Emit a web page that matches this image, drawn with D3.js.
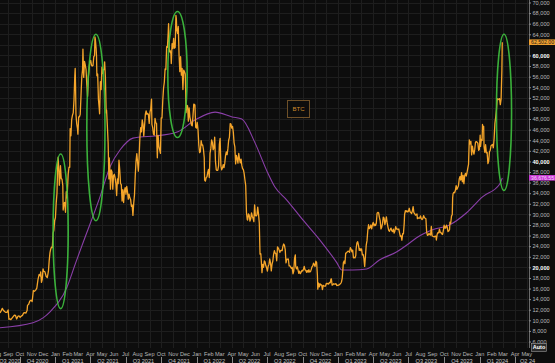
<!DOCTYPE html>
<html>
<head>
<meta charset="utf-8">
<script src="https://cdn.jsdelivr.net/npm/d3@7"></script>
<style>
  html, body { margin: 0; padding: 0; background: #0d0d0d; }
  svg { display: block; font-family: "Liberation Sans", Arial, sans-serif; }
</style>
</head>
<body>
<svg id="chart" width="555" height="363"></svg>
<script>
// BTC daily close
const btc = [
  ["2020-08-11",11400],["2020-08-14",11780],["2020-08-17",12250],["2020-08-20",11860],["2020-08-23",11650],["2020-08-26",11480],["2020-08-29",11520],
  ["2020-09-01",11960],["2020-09-03",10190],["2020-09-05",10280],["2020-09-08",10120],["2020-09-11",10400],["2020-09-14",10680],["2020-09-17",10960],
  ["2020-09-20",10920],["2020-09-23",10250],["2020-09-26",10730],["2020-09-29",10840],["2020-10-02",10580],["2020-10-05",10790],["2020-10-08",10930],
  ["2020-10-11",11380],["2020-10-14",11430],["2020-10-17",11360],["2020-10-20",11920],["2020-10-21",12820],["2020-10-24",13030],["2020-10-27",13650],
  ["2020-10-30",13800],["2020-11-02",13560],["2020-11-05",15590],["2020-11-08",15480],["2020-11-11",15700],["2020-11-14",16070],["2020-11-17",17680],
  ["2020-11-20",18680],["2020-11-23",18370],["2020-11-24",19160],["2020-11-26",17150],["2020-11-28",17730],["2020-11-30",19700],["2020-12-02",19220],
  ["2020-12-05",19150],["2020-12-08",18320],["2020-12-11",18050],["2020-12-14",19270],["2020-12-16",21310],["2020-12-18",22800],["2020-12-20",23480],
  ["2020-12-22",23830],["2020-12-24",23730],["2020-12-26",26440],["2020-12-28",27040],["2020-12-30",28840],
  ["2021-01-01",29370],["2021-01-03",32130],["2021-01-05",33990],["2021-01-07",39370],["2021-01-08",40800],["2021-01-10",38180],["2021-01-11",35500],
  ["2021-01-13",37320],["2021-01-14",39190],["2021-01-16",36770],["2021-01-18",36630],["2021-01-20",35500],["2021-01-21",30830],["2021-01-23",32080],
  ["2021-01-25",32260],["2021-01-27",30400],["2021-01-29",34270],["2021-01-31",33110],["2021-02-03",37620],["2021-02-05",38900],["2021-02-07",38900],
  ["2021-02-08",46200],["2021-02-10",44840],["2021-02-12",47900],["2021-02-14",48720],["2021-02-16",49170],["2021-02-18",51680],["2021-02-20",56100],
  ["2021-02-21",57540],["2021-02-22",54200],["2021-02-23",48900],["2021-02-25",47060],["2021-02-27",46190],["2021-02-28",45140],["2021-03-02",48400],
  ["2021-03-04",48420],["2021-03-06",48880],["2021-03-08",52380],["2021-03-10",55880],["2021-03-12",57330],["2021-03-13",61200],["2021-03-15",55850],
  ["2021-03-17",58870],["2021-03-19",58240],["2021-03-21",57350],["2021-03-23",54530],["2021-03-25",52300],["2021-03-27",55860],["2021-03-29",57600],
  ["2021-03-31",58920],["2021-04-02",59060],["2021-04-04",58200],["2021-04-06",58000],["2021-04-08",58100],["2021-04-10",59770],["2021-04-12",59990],
  ["2021-04-13",63500],["2021-04-14",63110],["2021-04-16",61340],["2021-04-17",60000],["2021-04-18",56150],["2021-04-20",56500],["2021-04-22",51700],
  ["2021-04-24",50050],["2021-04-25",49000],["2021-04-27",55050],["2021-04-29",53560],["2021-05-01",57800],["2021-05-03",56600],["2021-05-05",57360],
  ["2021-05-07",57350],["2021-05-08",58800],["2021-05-10",55860],["2021-05-12",49150],["2021-05-13",49720],["2021-05-15",46760],["2021-05-17",43540],
  ["2021-05-19",36700],["2021-05-20",40670],["2021-05-22",37540],["2021-05-23",34770],["2021-05-25",38400],["2021-05-27",38000],["2021-05-29",34770],
  ["2021-05-31",37330],["2021-06-02",37580],["2021-06-04",36880],["2021-06-06",35800],["2021-06-08",33560],["2021-06-10",36700],["2021-06-12",35790],
  ["2021-06-14",40220],["2021-06-16",38350],["2021-06-18",35820],["2021-06-20",35600],["2021-06-22",32510],["2021-06-24",34650],["2021-06-26",32240],
  ["2021-06-28",34430],["2021-06-30",35040],["2021-07-02",33800],["2021-07-04",35290],["2021-07-06",34240],["2021-07-08",32860],["2021-07-10",33810],
  ["2021-07-12",33130],["2021-07-14",32820],["2021-07-16",31530],["2021-07-18",31780],["2021-07-20",29800],["2021-07-22",32110],["2021-07-24",33650],
  ["2021-07-26",37340],["2021-07-28",40010],["2021-07-30",41460],["2021-08-01",39860],["2021-08-03",38150],["2021-08-05",40870],["2021-08-07",44560],
  ["2021-08-09",46360],["2021-08-11",45590],["2021-08-13",47820],["2021-08-15",47050],["2021-08-17",44800],["2021-08-19",46720],["2021-08-21",48870],
  ["2021-08-23",49520],["2021-08-25",48900],["2021-08-27",49060],["2021-08-29",48820],["2021-08-31",47170],["2021-09-02",49310],["2021-09-04",49940],
  ["2021-09-06",51760],["2021-09-07",46980],["2021-09-09",46360],["2021-09-11",45160],["2021-09-13",44960],["2021-09-15",48140],["2021-09-17",47280],
  ["2021-09-19",47170],["2021-09-20",42840],["2021-09-21",40690],["2021-09-23",44900],["2021-09-25",42840],["2021-09-27",42170],["2021-09-29",41540],
  ["2021-10-01",48230],["2021-10-03",48200],["2021-10-05",51510],["2021-10-07",53810],["2021-10-09",54940],["2021-10-11",57480],["2021-10-13",57360],
  ["2021-10-15",61670],["2021-10-17",61550],["2021-10-19",64260],["2021-10-20",65990],["2021-10-22",60690],["2021-10-24",60930],["2021-10-26",60340],
  ["2021-10-27",58480],["2021-10-29",62210],["2021-10-31",61320],["2021-11-02",63230],["2021-11-04",61370],["2021-11-06",61530],["2021-11-08",67570],
  ["2021-11-09",66970],["2021-11-10",64990],["2021-11-12",64160],["2021-11-14",65470],["2021-11-16",60160],["2021-11-18",56940],["2021-11-20",59760],
  ["2021-11-22",56290],["2021-11-24",57570],["2021-11-26",53570],["2021-11-28",57230],["2021-11-30",56910],["2021-12-02",56500],["2021-12-03",53600],
  ["2021-12-04",49200],["2021-12-06",50580],["2021-12-08",50500],["2021-12-10",47590],["2021-12-12",50100],["2021-12-14",48380],["2021-12-16",47630],
  ["2021-12-18",46850],["2021-12-20",46710],["2021-12-22",48620],["2021-12-24",50820],["2021-12-27",50640],["2021-12-29",46460],["2021-12-31",46310],
  ["2022-01-02",47350],["2022-01-04",45900],["2022-01-06",43080],["2022-01-08",41670],["2022-01-10",41820],["2022-01-12",43910],["2022-01-14",43100],
  ["2022-01-16",43100],["2022-01-18",42250],["2022-01-20",40700],["2022-01-21",36480],["2022-01-23",36280],["2022-01-25",36950],["2022-01-27",37080],
  ["2022-01-29",37920],["2022-01-31",38480],["2022-02-02",36950],["2022-02-04",41570],["2022-02-06",42410],["2022-02-08",44040],["2022-02-10",43570],
  ["2022-02-12",42200],["2022-02-14",42590],["2022-02-16",44580],["2022-02-18",40000],["2022-02-20",38430],["2022-02-22",38300],["2022-02-24",38330],
  ["2022-02-26",39140],["2022-02-28",43190],["2022-03-02",44350],["2022-03-04",39150],["2022-03-06",38420],["2022-03-08",38740],["2022-03-10",39390],
  ["2022-03-12",38810],["2022-03-14",39670],["2022-03-16",41140],["2022-03-18",41790],["2022-03-20",41260],["2022-03-22",42360],["2022-03-24",44000],
  ["2022-03-26",44550],["2022-03-28",47130],["2022-03-30",47060],["2022-04-01",46280],["2022-04-03",46620],["2022-04-05",45540],["2022-04-07",43500],
  ["2022-04-09",42760],["2022-04-11",39520],["2022-04-13",41150],["2022-04-15",40550],["2022-04-17",39680],["2022-04-19",41500],["2022-04-21",40480],
  ["2022-04-23",39740],["2022-04-25",40430],["2022-04-27",39240],["2022-04-29",38600],["2022-05-01",38470],["2022-05-03",37710],["2022-05-05",36540],
  ["2022-05-07",35470],["2022-05-09",30300],["2022-05-11",29030],["2022-05-12",28940],["2022-05-14",30080],["2022-05-16",29860],["2022-05-18",28720],
  ["2022-05-20",29200],["2022-05-22",30290],["2022-05-24",29650],["2022-05-26",29270],["2022-05-28",28630],["2022-05-30",31790],["2022-06-01",29800],
  ["2022-06-03",29700],["2022-06-05",29910],["2022-06-07",31370],["2022-06-09",30100],["2022-06-11",28400],["2022-06-13",22490],["2022-06-15",22570],
  ["2022-06-17",20380],["2022-06-18",19000],["2022-06-20",20560],["2022-06-22",20000],["2022-06-24",21230],["2022-06-26",21030],["2022-06-28",20280],
  ["2022-06-30",19930],["2022-07-02",19300],["2022-07-04",20220],["2022-07-06",20550],["2022-07-08",21590],["2022-07-10",20830],["2022-07-12",19320],
  ["2022-07-14",20590],["2022-07-16",21190],["2022-07-18",22470],["2022-07-20",23160],["2022-07-22",22680],["2022-07-24",22580],["2022-07-26",21240],
  ["2022-07-28",23850],["2022-07-30",23640],["2022-08-01",23300],["2022-08-03",22820],["2022-08-05",23170],["2022-08-07",23180],["2022-08-09",23160],
  ["2022-08-11",23950],["2022-08-13",24400],["2022-08-15",24140],["2022-08-17",23340],["2022-08-19",20830],["2022-08-21",21530],["2022-08-23",21530],
  ["2022-08-25",21570],["2022-08-27",20260],["2022-08-29",20300],["2022-08-31",20050],["2022-09-02",19800],["2022-09-04",20000],["2022-09-06",18790],
  ["2022-09-08",19290],["2022-09-10",21650],["2022-09-12",22370],["2022-09-13",20180],["2022-09-15",19700],["2022-09-17",20110],["2022-09-19",19540],
  ["2022-09-21",18870],["2022-09-23",19290],["2022-09-25",18800],["2022-09-27",19080],["2022-09-29",19410],["2022-10-01",19310],["2022-10-03",19620],
  ["2022-10-05",20160],["2022-10-07",19530],["2022-10-09",19450],["2022-10-11",19060],["2022-10-13",19380],["2022-10-15",19070],["2022-10-17",19550],
  ["2022-10-19",19120],["2022-10-21",19170],["2022-10-23",19570],["2022-10-25",20090],["2022-10-27",20290],["2022-10-29",20810],["2022-10-31",20490],
  ["2022-11-02",20160],["2022-11-04",21150],["2022-11-06",20920],["2022-11-08",18540],["2022-11-09",15880],["2022-11-11",17040],["2022-11-13",16330],
  ["2022-11-15",16900],["2022-11-17",16700],["2022-11-19",16700],["2022-11-21",15790],["2022-11-23",16600],["2022-11-25",16520],["2022-11-27",16460],
  ["2022-11-29",16440],["2022-12-01",16970],["2022-12-03",16890],["2022-12-05",16970],["2022-12-07",16840],["2022-12-09",17130],["2022-12-11",17090],
  ["2022-12-13",17780],["2022-12-14",17820],["2022-12-16",16630],["2022-12-18",16740],["2022-12-20",16900],["2022-12-22",16830],["2022-12-24",16840],
  ["2022-12-26",16910],["2022-12-28",16550],["2022-12-30",16600],
  ["2023-01-01",16620],["2023-01-03",16680],["2023-01-05",16830],["2023-01-07",16950],["2023-01-09",17190],["2023-01-11",17940],["2023-01-12",18850],
  ["2023-01-14",20880],["2023-01-16",21190],["2023-01-18",20680],["2023-01-20",22670],["2023-01-22",22720],["2023-01-24",22920],["2023-01-26",23070],
  ["2023-01-28",23030],["2023-01-30",22850],["2023-02-01",23730],["2023-02-03",23430],["2023-02-05",22940],["2023-02-07",23250],["2023-02-09",21800],
  ["2023-02-11",21860],["2023-02-13",21790],["2023-02-15",22230],["2023-02-16",23540],["2023-02-18",24630],["2023-02-20",24840],["2023-02-22",24190],
  ["2023-02-24",23190],["2023-02-26",23560],["2023-02-28",23150],["2023-03-02",23470],["2023-03-04",22350],["2023-03-06",22430],["2023-03-08",21700],
  ["2023-03-10",20180],["2023-03-12",22150],["2023-03-14",24200],["2023-03-16",25040],["2023-03-18",26940],["2023-03-20",28040],["2023-03-22",27300],
  ["2023-03-24",27490],["2023-03-26",27990],["2023-03-28",27260],["2023-03-30",28040],["2023-04-01",28470],["2023-04-03",27820],["2023-04-05",28170],
  ["2023-04-07",27910],["2023-04-09",28330],["2023-04-11",30210],["2023-04-13",30390],["2023-04-15",30300],["2023-04-17",29430],["2023-04-19",28820],
  ["2023-04-21",27260],["2023-04-23",27590],["2023-04-25",28300],["2023-04-27",29480],["2023-04-29",29340],["2023-05-01",28090],["2023-05-03",28680],
  ["2023-05-05",29540],["2023-05-07",28430],["2023-05-09",27650],["2023-05-11",26990],["2023-05-13",26800],["2023-05-15",27170],["2023-05-17",27410],
  ["2023-05-19",26890],["2023-05-21",26750],["2023-05-23",27220],["2023-05-25",26480],["2023-05-27",26870],["2023-05-29",27700],["2023-05-31",27220],
  ["2023-06-02",27250],["2023-06-04",27120],["2023-06-06",27240],["2023-06-08",26510],["2023-06-10",25850],["2023-06-12",25940],["2023-06-14",25120],
  ["2023-06-16",26340],["2023-06-18",26340],["2023-06-20",28310],["2023-06-21",30000],["2023-06-23",30690],["2023-06-25",30480],["2023-06-27",30690],
  ["2023-06-29",30450],["2023-07-01",30590],["2023-07-03",31150],["2023-07-05",30500],["2023-07-07",30350],["2023-07-09",30170],["2023-07-11",30620],
  ["2023-07-13",31470],["2023-07-15",30300],["2023-07-17",30140],["2023-07-19",29860],["2023-07-21",29910],["2023-07-23",30080],["2023-07-24",29180],
  ["2023-07-26",29350],["2023-07-28",29310],["2023-07-30",29280],["2023-08-01",29700],["2023-08-03",29190],["2023-08-05",29040],["2023-08-07",29180],
  ["2023-08-09",29770],["2023-08-11",29400],["2023-08-13",29280],["2023-08-15",29170],["2023-08-17",26630],["2023-08-19",26050],["2023-08-21",26120],
  ["2023-08-23",26430],["2023-08-25",26160],["2023-08-27",26100],["2023-08-29",27720],["2023-08-31",25930],["2023-09-02",25870],["2023-09-04",25820],
  ["2023-09-06",25760],["2023-09-08",25900],["2023-09-10",25840],["2023-09-11",25160],["2023-09-13",26230],["2023-09-15",26560],["2023-09-17",26530],
  ["2023-09-19",27210],["2023-09-21",26580],["2023-09-23",26580],["2023-09-25",26300],["2023-09-27",26210],["2023-09-29",26910],["2023-10-01",27980],
  ["2023-10-03",27430],["2023-10-05",27430],["2023-10-07",27970],["2023-10-09",27590],["2023-10-11",26760],["2023-10-13",26860],["2023-10-15",27160],
  ["2023-10-16",28520],["2023-10-18",28330],["2023-10-20",29670],["2023-10-22",29990],["2023-10-23",33090],["2023-10-24",33900],["2023-10-26",34150],
  ["2023-10-28",34090],["2023-10-30",34500],["2023-11-01",35420],["2023-11-03",34730],["2023-11-05",35050],["2023-11-07",35420],["2023-11-09",36700],
  ["2023-11-11",37140],["2023-11-13",36490],["2023-11-15",37880],["2023-11-17",36160],["2023-11-19",37360],["2023-11-21",35810],["2023-11-23",37300],
  ["2023-11-25",37720],["2023-11-27",37240],["2023-11-29",37860],["2023-12-01",38690],["2023-12-03",39460],["2023-12-04",41980],["2023-12-05",44080],
  ["2023-12-07",43290],["2023-12-09",43790],["2023-12-11",41240],["2023-12-13",42890],["2023-12-15",41930],["2023-12-17",41370],["2023-12-19",42260],
  ["2023-12-21",43660],["2023-12-23",43740],["2023-12-25",43610],["2023-12-27",43440],["2023-12-29",42100],["2023-12-31",42270],
  ["2024-01-02",44960],["2024-01-03",42850],["2024-01-05",44160],["2024-01-07",43960],["2024-01-08",46970],["2024-01-10",46110],["2024-01-11",46630],
  ["2024-01-12",42800],["2024-01-14",41730],["2024-01-16",43150],["2024-01-18",41620],["2024-01-20",41680],["2024-01-22",39570],["2024-01-24",40080],
  ["2024-01-26",41820],["2024-01-28",42120],["2024-01-30",42940],["2024-02-01",43080],["2024-02-03",43190],["2024-02-05",42580],["2024-02-07",44350],
  ["2024-02-09",47150],["2024-02-11",48300],["2024-02-13",49700],["2024-02-15",51840],["2024-02-17",51660],["2024-02-19",51780],["2024-02-21",51850],
  ["2024-02-23",50730],["2024-02-25",51730],["2024-02-26",54480],["2024-02-27",57090],["2024-02-28",62502]
];

// moving average (purple)
const movingAvg = [
  ["2020-08-11",8600],["2020-11-04",9530],["2020-12-01",10500],["2020-12-18",11600],["2021-01-31",16300],["2021-02-22",20800],
  ["2021-03-13",24600],["2021-04-26",33300],["2021-05-22",39000],["2021-06-17",42200],["2021-07-20",44400],["2021-08-07",44600],
  ["2021-09-15",44800],["2021-11-13",45600],["2021-12-27",47800],["2022-02-17",49300],["2022-04-02",48400],["2022-04-27",48000],
  ["2022-05-31",43500],["2022-07-03",37800],["2022-07-21",35200],["2022-08-21",32700],["2022-10-01",29000],["2022-11-14",25200],
  ["2022-12-28",20900],["2023-01-10",19500],["2023-02-07",19500],["2023-03-15",19700],["2023-04-17",21400],["2023-05-31",22900],
  ["2023-07-04",24600],["2023-07-22",25600],["2023-09-01",27100],["2023-10-15",28000],["2023-11-28",30300],["2024-01-08",33300],
  ["2024-02-21",35700],["2024-02-28",36900]
];

const yTicks = [6000,8000,10000,12000,14000,16000,18000,20000,22000,24000,26000,28000,30000,32000,34000,36000,38000,
  40000,42000,44000,46000,48000,50000,52000,54000,56000,58000,60000,62000,64000,66000,68000,70000];
const boldTicks = [20000, 40000, 60000];
const quarterLabels = ["Q3 2020","Q4 2020","Q1 2021","Q2 2021","Q3 2021","Q4 2021","Q1 2022","Q2 2022","Q3 2022",
  "Q4 2022","Q1 2023","Q2 2023","Q3 2023","Q4 2023","Q1 2024","Q2 24"];

// green rings drawn on the chart: date span and price span
const circled = [
  {from: "2020-12-26", to: "2021-02-03", lo: 12200, hi: 41400},
  {from: "2021-03-23", to: "2021-05-09", lo: 28800, hi: 64000},
  {from: "2021-10-18", to: "2021-12-07", lo: 44500, hi: 68300},
  {from: "2024-02-13", to: "2024-03-23", lo: 34500, hi: 64000}
];

const lastPriceLabel = "62,502.00";
const lastAvgLabel = "36,676.55";
const legendLabel = "BTC";

const W = 555, H = 363;
const plot = {left: 0, right: 529, top: 0, bottom: 348};
const parse = d3.utcParse("%Y-%m-%d");

const svg = d3.select("#chart");

const x = d3.scaleUtc()
  .domain([parse("2020-08-11"), parse("2024-05-07")])
  .range([plot.left, plot.right]);

const y = d3.scaleLinear()
  .domain([6000, 70000])
  .range([341.5, 2.5]);

svg.append("rect").attr("width", W).attr("height", H).attr("fill", "#0d0d0d");

// grid
const months = d3.utcMonth.range(parse("2020-08-01"), parse("2024-06-01"));
const grid = svg.append("g").attr("stroke", "#1e1e1e").attr("stroke-width", 1);
grid.selectAll("line.h").data(yTicks).join("line")
  .attr("x1", plot.left).attr("x2", plot.right)
  .attr("y1", d => Math.round(y(d)) + 0.5).attr("y2", d => Math.round(y(d)) + 0.5);
grid.selectAll("line.v").data(months.filter(m => x(m) >= 0 && x(m) <= plot.right)).join("line")
  .attr("x1", d => Math.round(x(d)) + 0.5).attr("x2", d => Math.round(x(d)) + 0.5)
  .attr("y1", plot.top).attr("y2", plot.bottom);

svg.append("clipPath").attr("id", "clip")
  .append("rect").attr("x", plot.left).attr("y", plot.top)
  .attr("width", plot.right - plot.left).attr("height", plot.bottom - plot.top);

const lineGen = d3.line()
  .x(d => x(parse(d[0])))
  .y(d => y(d[1]));

svg.append("path")
  .datum(movingAvg)
  .attr("clip-path", "url(#clip)")
  .attr("fill", "none")
  .attr("stroke", "#8a3fa8")
  .attr("stroke-width", 1.1)
  .attr("d", lineGen.curve(d3.curveMonotoneX));

svg.append("path")
  .datum(btc)
  .attr("clip-path", "url(#clip)")
  .attr("fill", "none")
  .attr("stroke", "#f5a52a")
  .attr("stroke-width", 1.3)
  .attr("stroke-linejoin", "round")
  .attr("d", lineGen.curve(d3.curveLinear));

// green rings
svg.append("g").selectAll("ellipse").data(circled).join("ellipse")
  .attr("cx", d => (x(parse(d.from)) + x(parse(d.to))) / 2)
  .attr("cy", d => (y(d.lo) + y(d.hi)) / 2)
  .attr("rx", d => (x(parse(d.to)) - x(parse(d.from))) / 2)
  .attr("ry", d => (y(d.lo) - y(d.hi)) / 2)
  .attr("fill", "none")
  .attr("stroke", "#3fc23f")
  .attr("stroke-opacity", 0.9)
  .attr("stroke-width", 1.6);

// legend box
const legend = svg.append("g").attr("transform", "translate(287,100)");
legend.append("rect").attr("x", 0.5).attr("y", 0.5).attr("width", 22).attr("height", 17)
  .attr("fill", "#0d0d0d").attr("stroke", "#6e5028").attr("stroke-width", 1);
legend.append("text").attr("x", 11.5).attr("y", 11.3).attr("text-anchor", "middle")
  .attr("fill", "#d08a2c").style("font-size", "6px").text(legendLabel);

// last value tags
const lastBtc = btc[btc.length - 1][1];
const lastMa = movingAvg[movingAvg.length - 1][1];
const tags = [
  {v: lastBtc, text: lastPriceLabel, bg: "#f0a030", fg: "#1a1a1a"},
  {v: lastMa, text: lastAvgLabel, bg: "#c93ad6", fg: "#f4d8f8"}
];

// right axis (a label is dropped only where a tag sits right on it)
const hidden = v => tags.some(t => Math.abs(y(t.v) - y(v)) < 3.5);
const yAxis = svg.append("g")
  .attr("transform", `translate(${plot.right},0)`)
  .call(d3.axisRight(y).tickValues(yTicks).tickSize(2).tickPadding(1.5)
    .tickFormat(d3.format(",")));
yAxis.select(".domain").attr("stroke", "#6a6a6a").attr("d", `M0.5,0V${plot.bottom}`);
yAxis.selectAll(".tick line").attr("stroke", "#8a8a8a");
yAxis.selectAll(".tick text")
  .attr("fill", d => boldTicks.includes(d) ? "#ffffff" : "#b8b8b8")
  .style("font-weight", d => boldTicks.includes(d) ? "bold" : "normal")
  .style("font-size", "5.6px")
  .style("font-family", "'Liberation Sans', Arial, sans-serif");
yAxis.selectAll(".tick").filter(d => hidden(d)).remove();

const tag = svg.append("g").selectAll("g").data(tags).join("g")
  .attr("transform", d => `translate(${plot.right},${y(d.v)})`);
tag.append("rect").attr("x", 0).attr("y", -2.8).attr("width", W - plot.right).attr("height", 5.6)
  .attr("fill", d => d.bg);
tag.append("text").attr("x", 2).attr("y", 1.9).attr("fill", d => d.fg)
  .style("font-size", "5.2px").text(d => d.text);

// "Auto" button
const auto = svg.append("g").attr("transform", "translate(531,343)");
auto.append("rect").attr("x", 0.5).attr("y", 0.5).attr("width", 15).attr("height", 8)
  .attr("fill", "#2b2b2b").attr("stroke", "#9a9a9a").attr("stroke-width", 0.6);
auto.append("text").attr("x", 8).attr("y", 6.4).attr("text-anchor", "middle")
  .attr("fill", "#ffffff").style("font-size", "5.5px").style("font-weight", "bold").text("Auto");

// bottom axis: months and quarters
const xAxis = svg.append("g");
xAxis.selectAll("text.month").data(months.filter(m => x(m) < 540)).join("text")
  .attr("x", d => x(d)).attr("y", 355.5).attr("text-anchor", "middle")
  .attr("fill", "#b8b8b8").style("font-size", "5.6px")
  .text(d => d3.utcFormat("%b")(d));

const quarters = d3.utcMonth.every(3).range(parse("2020-07-01"), parse("2024-05-01"));
xAxis.selectAll("line.q").data(quarters.filter(q => x(q) > 0)).join("line")
  .attr("x1", d => Math.round(x(d)) + 0.5).attr("x2", d => Math.round(x(d)) + 0.5)
  .attr("y1", 357).attr("y2", 363).attr("stroke", "#8a8a8a");
xAxis.selectAll("text.quarter").data(quarters).join("text")
  .attr("x", d => {
    const a = Math.max(0, x(d));
    const b = Math.min(540, x(d3.utcMonth.offset(d, 3)));
    return (a + b) / 2;
  })
  .attr("y", 362.5).attr("text-anchor", "middle")
  .attr("fill", "#c8c8c8").style("font-size", "5.6px")
  .text((d, i) => quarterLabels[i]);
</script>
</body>
</html>
